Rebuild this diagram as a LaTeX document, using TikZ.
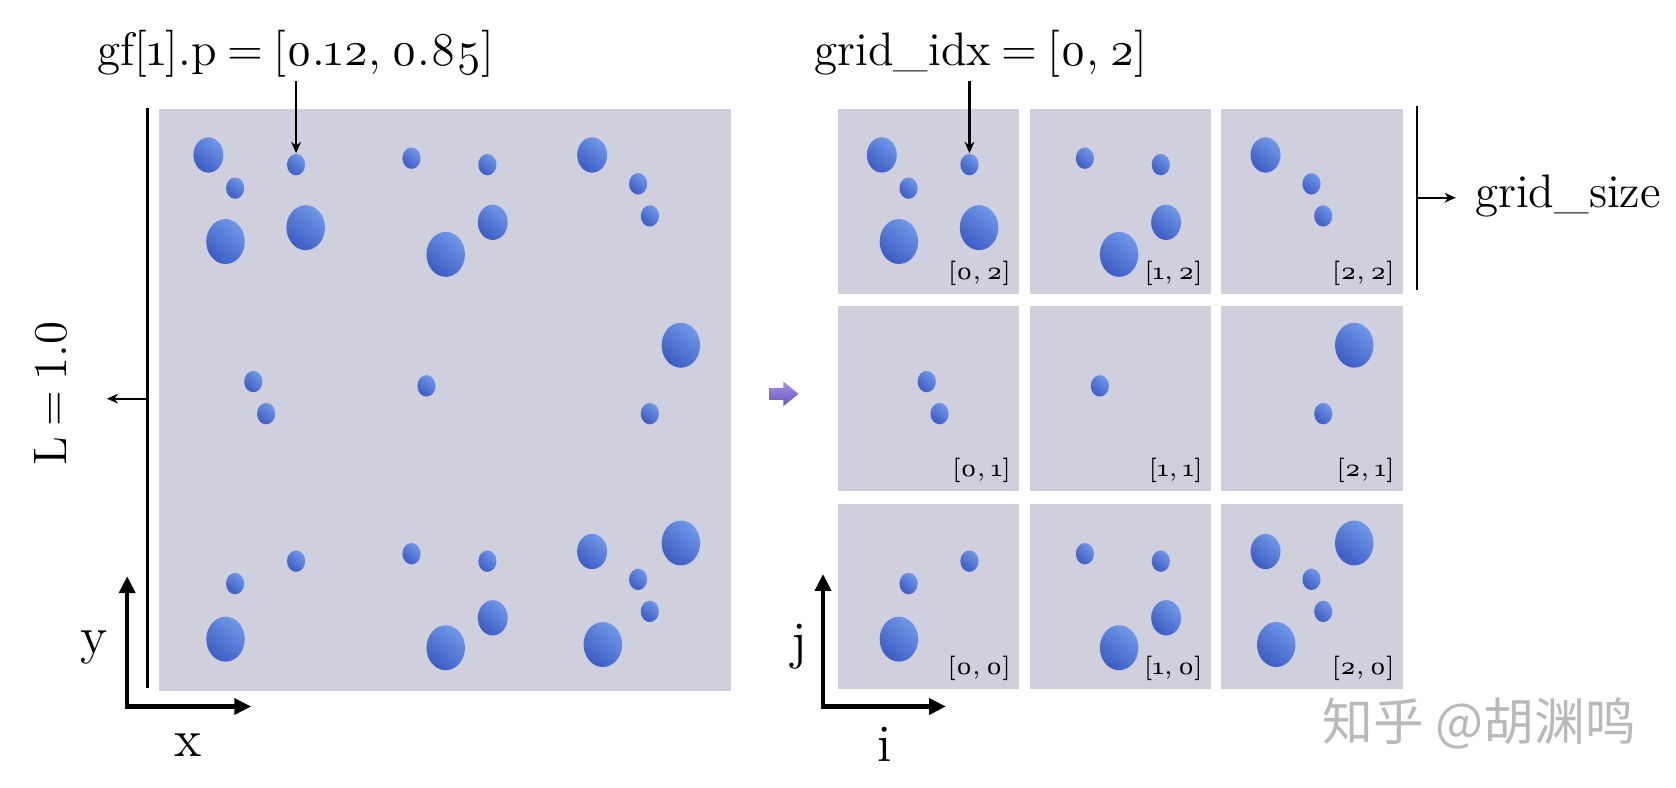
\documentclass[tikz,border=0pt]{standalone}
\usepackage{fontspec}
\setmainfont{Latin Modern Roman}[Numbers=OldStyle]
\newfontfamily\cjk{Noto Sans CJK SC}
\usetikzlibrary{arrows.meta,positioning,calc,shapes.geometric}

\definecolor{cellbg}{RGB}{207,207,222}
\definecolor{ballhi}{RGB}{112,152,230}
\definecolor{balllo}{RGB}{60,92,196}
\definecolor{arrhi}{RGB}{165,145,228}
\definecolor{arrlo}{RGB}{105,85,190}

\newcommand{\tsp}{\hspace{0.22em}}

\begin{document}
\begin{tikzpicture}[
  x=0.01cm, y=-0.01cm,
  font=\fontsize{12}{14}\selectfont,
  >={Stealth[length=3pt,width=2.6pt]},
  cell/.style={fill=cellbg, inner sep=0pt, anchor=north west},
  ball/.style={ellipse, inner sep=0pt, top color=ballhi, bottom color=balllo, shading angle=-40},
  bs/.style={ball, minimum width=0.17cm, minimum height=0.20cm},
  bm/.style={ball, minimum width=0.28cm, minimum height=0.33cm},
  bb/.style={ball, minimum width=0.36cm, minimum height=0.42cm},
  pt/.style={->, line width=0.6pt},
  ax/.style={{Triangle[length=4.5pt,width=4.2pt]}-{Triangle[length=4.5pt,width=4.2pt]}, line width=1.1pt},
  lbl/.style={inner sep=1pt, font=\fontsize{12.5}{14}\selectfont},
  idx/.style={inner sep=0pt, font=\fontsize{6.5}{8}\selectfont, anchor=south east}
]
\useasboundingbox (0,0) rectangle (1568,737);

% whole domain
\node[cell, minimum width=5.35cm, minimum height=5.44cm] (sq) at (148,101) {};

% 3x3 grid cells
\foreach \i in {0,1,2}
  \foreach \j in {0,1,2} {
    \node[cell, minimum width=1.70cm, minimum height=1.73cm] (c\i\j) at ({783+179.5*\i},{101+185*(2-\j)}) {};
    \node[idx] at ([shift={(-8,-8)}]c\i\j.south east) {[\i,\hspace{0.22em}\j]};
  }

% particles, left and the same set shifted into the grid
\foreach \bx/\by/\bt [count=\k] in {
    195/145/bm, 220/176/bs, 277/154/bs, 211/226/bb, 286/213/bb,
    385/148/bs, 456/154/bs, 461/208/bm, 417/238/bb,
    554/145/bm, 597/172/bs, 608/202/bs,
    237/357/bs, 249/387/bs, 399/361/bs, 637/323/bb, 608/387/bs,
    277/525/bs, 220/546/bs, 211/598/bb,
    385/518/bs, 456/525/bs, 461/578/bm, 417/606/bb,
    554/516/bm, 637/508/bb, 597/542/bs, 608/572/bs, 564/603/bb} {
  \node[\bt] (l\k) at (\bx,\by) {};
  \node[\bt] (r\k) at (\bx+630,\by) {};
}

% labels and pointers
\node[lbl] (gf) at (277,50) {gf[1].p\tsp=\tsp[0.12,\tsp0.85]};
\node[lbl] (gi) at (918,50) {grid\_idx\tsp=\tsp[0,\tsp2]};
\draw[pt] (gf.south -| l3.north) -- (l3.north);
\draw[pt] (gi.south -| r3.north) -- (r3.north);

% domain length
\coordinate (lb) at (138,373);
\coordinate (lt) at (100,373);
\draw[line width=0.6pt] (138,101) -- (138,644);
\draw[pt] (lb) -- (lt);
\node[lbl, rotate=90] (Ln) at (48,368) {\addfontfeatures{Numbers=Lining}L\tsp=\tsp1.0};

% cell size
\coordinate (gb) at (1326,185);
\coordinate (ge) at (1362,185);
\draw[line width=0.6pt] (1326,99) -- (1326,271);
\draw[pt] (gb) -- (ge);
\node[lbl, anchor=west] (gs) at (1376,183) {grid\_size};

% axes
\coordinate (o1) at (119,661);
\coordinate (o2) at (770,661);
\draw[ax] (119,539) -- (o1) -- (235,661);
\draw[ax] (770,537) -- (o2) -- (885,661);
\node[lbl, font=\fontsize{14}{16}\selectfont] (yl) at (88,606) {y};
\node[lbl, font=\fontsize{14}{16}\selectfont] (xl) at (176,697) {x};
\node[lbl, font=\fontsize{14}{16}\selectfont] (jl) at (748,605) {j};
\node[lbl, font=\fontsize{14}{16}\selectfont] (il) at (828,696) {i};

% small block arrow
\shade[top color=arrhi, bottom color=arrlo]
  (720,363) -- (733,363) -- (733,357) -- (747,368.5) -- (733,380) -- (733,374) -- (720,374) -- cycle;

\node[text=gray!55, font=\cjk\fontsize{13.5}{15}\selectfont] (wm) at (1384,677) {知乎 @胡渊鸣};
\end{tikzpicture}
\end{document}
